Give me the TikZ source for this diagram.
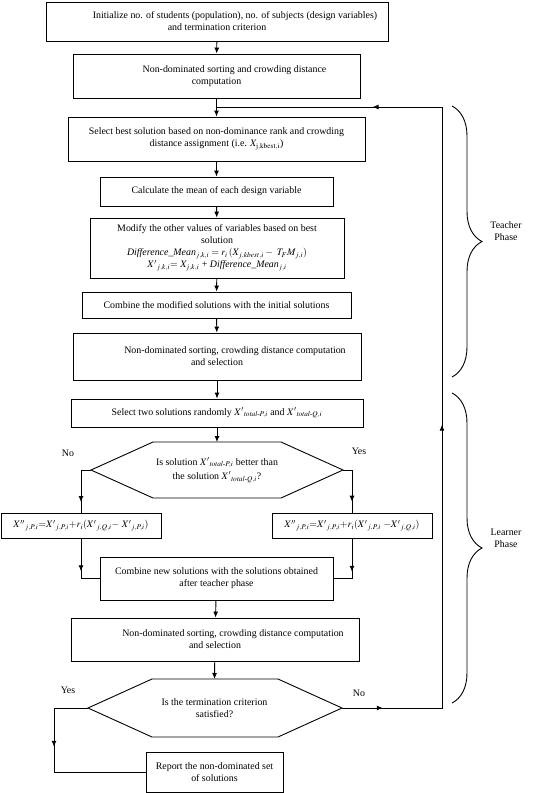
\documentclass[tikz,border=0pt]{standalone}
\usepackage{amsmath}
\usepackage{mathptmx}
\usepackage{fontspec}
\setmainfont{Liberation Serif}
\usetikzlibrary{arrows.meta,decorations.pathreplacing,decorations.markings}
\tikzset{arrow/.style={->, >={Latex[length=6pt,width=5pt]}}}
\tikzset{box/.style={draw, line width=0.9pt, align=center, inner sep=2pt}}
\tikzset{mid-arrow/.style={postaction={decorate}, decoration={markings, mark=at position #1 with {\arrow{Latex[length=6pt,width=5pt]}}}}}
\tikzset{loop-arrows/.style={postaction={decorate}, decoration={markings,
  mark=at position 0.044 with {\arrow{Latex[length=6pt,width=5pt]}},
  mark=at position 0.414 with {\arrow{Latex[length=6pt,width=5pt]}},
  mark=at position 0.832 with {\arrow{Latex[length=6pt,width=5pt]}}}}}
\tikzset{phase/.style={decorate, decoration={brace, amplitude=30pt}}}
\newcommand{\Xtot}[1]{$X'{}_{\mathit{total}\text{-}#1,i}$}
\newcommand{\Xjp}[1]{X'{}_{j,#1,i}}

\begin{document}
\begin{tikzpicture}[x=1pt, y=-1pt, line width=0.9pt, every node/.style={font=\fontsize{9.9}{12}\selectfont}]
      \useasboundingbox (0,0) rectangle (540,793);

      % teacher phase
      \node[box, minimum width=342pt, minimum height=39pt] (init) at (217,21.5) {\hspace*{36pt}Initialize no. of students (population), no. of subjects (design variables)\\and termination criterion};
      \node[box, minimum width=287pt, minimum height=44pt] (ndsort) at (216.5,76) {\hspace*{36pt}Non-dominated sorting and crowding distance\\computation};
      \node[box, minimum width=297pt, minimum height=44pt] (best) at (216.5,139) {Select best solution based on non-dominance rank and crowding\\distance assignment (i.e. $X_{\mathrm{j,kbest,i}}$)};
      \node[box, minimum width=233pt, minimum height=29pt] (mean) at (216.5,191.5) {Calculate the mean of each design variable};
      \node[box, minimum width=254pt, minimum height=60pt] (modify) at (217,248) {Modify the other values of variables based on best\\solution\\\textit{Difference\_Mean}$_{j,k,i} = r_i\,(X_{j,kbest,i}-\ T_F M_{j,i})$\\$X'{}_{j,k,i}{=}\ X_{j,k,i}$ + \textit{Difference\_Mean}$_{j,i}$};
      \node[box, minimum width=269pt, minimum height=26pt] (combine) at (216.5,305) {Combine the modified solutions with the initial solutions};
      \node[box, minimum width=288pt, minimum height=47pt] (select) at (217,356.5) {\hspace*{36pt}Non-dominated sorting, crowding distance computation\\and selection};

      % learner phase
      \node[box, minimum width=292pt, minimum height=28pt] (pick) at (217,413) {Select two solutions randomly \Xtot{P} and \Xtot{Q}};
      \node[align=center, font=\fontsize{9.9}{14.5}\selectfont] (better) at (217,470) {Is solution \Xtot{P} better than\\the solution \Xtot{Q}?};
      \draw (better.center) ++(-126,0) coordinate (betterW) -- ++(62,-28) -- ++(128,0) -- ++(62,28) coordinate (betterE) -- ++(-62,28) -- ++(-128,0) -- cycle;
      \coordinate (betterN) at (217,442);
      \node[box, minimum width=160pt, minimum height=25pt] (left) at (81,525.5) {$X''{}_{j,P,i}{=}\Xjp{P}{+}r_i(\Xjp{Q}{-}\ \Xjp{P})$};
      \node[box, minimum width=160pt, minimum height=25pt] (right) at (352,525.5) {$X''{}_{j,P,i}{=}\Xjp{P}{+}r_i(\Xjp{P}\ {-}\Xjp{Q})$};
      \node[box, minimum width=233pt, minimum height=43pt] (merge) at (216.5,578.5) {Combine new solutions with the solutions obtained\\after teacher phase};
      \node[box, minimum width=288pt, minimum height=43pt] (select2) at (215,639.5) {\hspace*{36pt}Non-dominated sorting, crowding distance computation\\and selection};
      \node[align=center] (stop) at (214.5,708) {Is the termination criterion\\satisfied?};
      \draw (stop.center) ++(-126.5,0) coordinate (stopW) -- ++(64,-29) -- ++(126,0) -- ++(64,29) coordinate (stopE) -- ++(-64,29) -- ++(-126,0) -- cycle;
      \coordinate (stopN) at (214.5,679);
      \node[box, minimum width=137pt, minimum height=40pt] (report) at (214.5,772) {Report the non-dominated set\\of solutions};

      \node (no1) at (68,453) {No};
      \node (yes1) at (359,451) {Yes};
      \node (yes2) at (68,690) {Yes};
      \node (no2) at (359,693) {No};

      \coordinate (join) at (217,107);
      \coordinate (rail) at (442,708);
      \coordinate (yesc) at (54,708);

      \draw[arrow] (init) -- (ndsort);
      \draw[arrow] (ndsort) -- (best);
      \draw[arrow] (best) -- (mean);
      \draw[arrow] (mean) -- (modify);
      \draw[arrow] (modify) -- (combine);
      \draw[arrow] (combine) -- (select);
      \draw[arrow] (select) -- (pick);
      \draw[arrow] (pick) -- (betterN);
      \draw[mid-arrow=0.8] (betterW) -| (left.north);
      \draw[mid-arrow=0.79] (betterE) -| (right.north);
      \draw[mid-arrow=0.56] (left.south) |- (merge.west);
      \draw[mid-arrow=0.57] (right.south) |- (merge.east);
      \draw[arrow] (merge) -- (select2);
      \draw[arrow] (select2) -- (stopN);
      \draw[mid-arrow=0.384] (stopW) -- (yesc) |- (report.west);
      \draw[loop-arrows] (stopE) -- (rail) |- (join);

      % phase braces
      \coordinate (teachT) at (452,106);
      \coordinate (teachB) at (452,377);
      \coordinate (learnT) at (452,393);
      \coordinate (learnB) at (452,703);
      \draw[phase] (teachT) -- (teachB);
      \draw[phase] (learnT) -- (learnB);
      \node[align=center] (teacher) at (506,231) {Teacher\\Phase};
      \node[align=center] (learner) at (506,538) {Learner\\Phase};
\end{tikzpicture}
\end{document}
